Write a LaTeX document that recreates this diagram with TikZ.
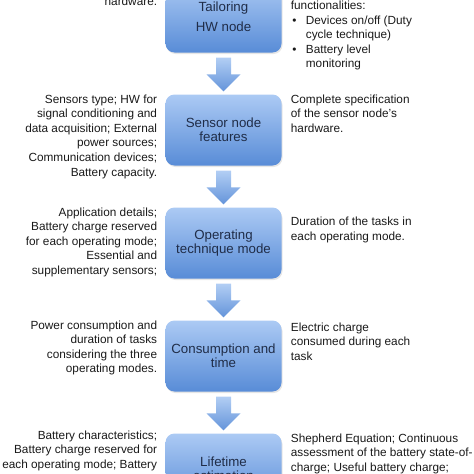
\documentclass[tikz,border=0pt]{standalone}
\usepackage{fontspec}
\setmainfont{Liberation Sans}
\usepackage{xcolor}
\usepackage{tikz}
\usetikzlibrary{shapes,arrows,positioning,calc,shadows}

\definecolor{boxtop}{RGB}{172,202,244}
\definecolor{boxbot}{RGB}{88,140,215}
\definecolor{arrtop}{RGB}{178,206,244}
\definecolor{arrbot}{RGB}{100,148,218}
\definecolor{boxtext}{RGB}{32,45,72}
\definecolor{sidetext}{RGB}{25,25,25}

\newcommand{\itembul}{\makebox[15pt][l]{\hspace{1.5pt}\textbullet}}
\newcommand{\itemind}{\hspace*{15pt}}

\begin{document}
\begin{tikzpicture}[
    x=1pt, y=-1pt,
    node distance=113pt,
    box/.style={rectangle, rounded corners=9pt, minimum width=116pt, minimum height=71pt, align=center, top color=boxtop, bottom color=boxbot, text=boxtext, font=\fontsize{13.3}{14}\selectfont, drop shadow={opacity=0.2, shadow xshift=1pt, shadow yshift=-1.5pt}},
    lside/.style={anchor=north east, align=right, inner sep=0pt, text=sidetext, font=\fontsize{11.8}{14.6}\selectfont},
    rside/.style={anchor=north west, align=left, inner sep=0pt, text=sidetext, font=\fontsize{11.8}{14.6}\selectfont},
    flow/.style={top color=arrtop, bottom color=arrbot}
]
    \useasboundingbox (0,0) rectangle (474,474);
    \clip (0,0) rectangle (474,474);

    \node[box] (tail) at (223.5,17) {Tailoring\\[6pt]HW node};
    \node[box, below of=tail] (sens) {Sensor node\\features};
    \node[box, below of=sens] (oper) {Operating\\technique mode};
    \node[box, below of=oper] (cons) {Consumption and\\time};
    \node[box, below of=cons] (life) {Lifetime\\estimation};

    % block arrows between the steps
    \foreach \a/\b in {tail/sens, sens/oper, oper/cons, cons/life}
        \path[flow] ($(\a.south)+(-7.5,5)$) -- ($(\a.south)+(7.5,5)$) -- ($(\b.north)+(7.5,-20)$) -- ($(\b.north)+(17,-20)$) -- ($(\b.north)+(0,-3)$) -- ($(\b.north)+(-17,-20)$) -- ($(\b.north)+(-7.5,-20)$) -- cycle;

    % inputs (left) and outputs (right)
    \node[lside] (tailL) at ([xshift=-8pt, yshift=-15.5pt]tail.north west) {hardware.};
    \node[rside] (tailR) at ([xshift=9pt, yshift=-19.5pt]tail.north east) {functionalities:\\
        \itembul Devices on/off (Duty\\ \itemind cycle technique)\\ \itembul Battery level\\ \itemind monitoring};

    \node[lside] (sensL) at ([xshift=-8pt]sens.north west) {Sensors type; HW for\\signal conditioning and\\data acquisition; External\\power sources;\\Communication devices;\\Battery capacity.};
    \node[rside] (sensR) at ([xshift=9pt]sens.north east) {Complete specification\\of the sensor node's\\hardware.};

    \node[lside] (operL) at ([xshift=-8pt]oper.north west) {Application details;\\Battery charge reserved\\for each operating mode;\\Essential and\\supplementary sensors;};
    \node[rside] (operR) at ([xshift=9pt, yshift=-9.5pt]oper.north east) {Duration of the tasks in\\each operating mode.};

    \node[lside] (consL) at ([xshift=-8pt]cons.north west) {Power consumption and\\duration of tasks\\considering the three\\operating modes.};
    \node[rside] (consR) at ([xshift=9pt, yshift=-2pt]cons.north east) {Electric charge\\consumed during each\\task};

    \node[lside] (lifeL) at ([xshift=-8pt, yshift=3pt]life.north west) {Battery characteristics;\\Battery charge reserved for\\each operating mode; Battery};
    \node[rside] (lifeR) at ([xshift=9pt]life.north east) {Shepherd Equation; Continuous\\assessment of the battery state-of-\\charge; Useful battery charge;};
\end{tikzpicture}
\end{document}
